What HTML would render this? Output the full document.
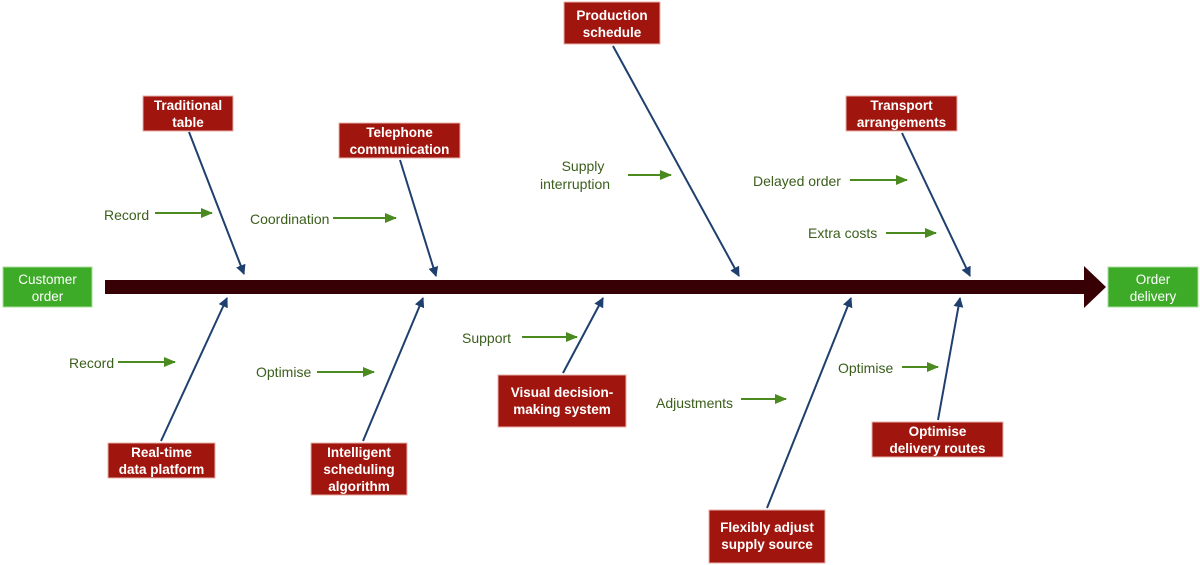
<!DOCTYPE html>
<html><head><meta charset="utf-8"><style>
html,body{margin:0;padding:0;background:#fff;}
svg{display:block;font-family:"Liberation Sans",Arial,sans-serif;}
.b{fill:#a0160e;stroke:#e8b0a8;stroke-width:1}
.g{fill:#3dab28;stroke:#a8dc9c;stroke-width:1}
.bt{fill:#fff;font-weight:bold;font-size:13.5px;text-anchor:middle}
.gt{fill:#fff;font-size:13.5px;text-anchor:middle}
.l{fill:#3b5e1c;font-size:14px}
.bl{stroke:#1f3f6e;stroke-width:2;marker-end:url(#ab)}
.gl{stroke:#4a8a1e;stroke-width:2;marker-end:url(#ag)}
</style></head><body>
<svg width="1200" height="565" viewBox="0 0 1200 565">
<defs>
<marker id="ab" markerWidth="10" markerHeight="10" refX="9" refY="5" orient="auto" markerUnits="userSpaceOnUse"><path d="M0,0 L10,5 L0,10 Z" fill="#1f3f6e"/></marker>
<marker id="ag" markerWidth="12" markerHeight="10" refX="11" refY="5" orient="auto" markerUnits="userSpaceOnUse"><path d="M0,0 L12,5 L0,10 Z" fill="#4a8a1e"/></marker>
</defs>
<!-- spine -->
<rect x="105" y="280" width="982" height="14" fill="#360004"/>
<path d="M1084,266 L1106,287 L1084,308 Z" fill="#360004"/>
<!-- end boxes -->
<rect class="g" x="3" y="267" width="89" height="40"/>
<text class="gt" x="47.5" y="284">Customer</text><text class="gt" x="47.5" y="301">order</text>
<rect class="g" x="1108" y="267" width="90" height="40"/>
<text class="gt" x="1153" y="284">Order</text><text class="gt" x="1153" y="301">delivery</text>
<!-- blue bones -->
<line class="bl" x1="189" y1="132" x2="244" y2="274"/>
<line class="bl" x1="400" y1="160" x2="436" y2="276"/>
<line class="bl" x1="613" y1="46" x2="739" y2="276"/>
<line class="bl" x1="902" y1="133" x2="970" y2="276"/>
<line class="bl" x1="161" y1="441" x2="227" y2="298"/>
<line class="bl" x1="363" y1="441" x2="423" y2="298"/>
<line class="bl" x1="563" y1="373" x2="603" y2="298"/>
<line class="bl" x1="767" y1="508" x2="851" y2="298"/>
<line class="bl" x1="938" y1="420" x2="960" y2="298"/>
<!-- red boxes -->
<rect class="b" x="143" y="96" width="90" height="35"/>
<text class="bt" x="188" y="110">Traditional</text><text class="bt" x="188" y="127">table</text>
<rect class="b" x="339" y="123" width="121" height="35"/>
<text class="bt" x="399.5" y="137">Telephone</text><text class="bt" x="399.5" y="154">communication</text>
<rect class="b" x="564" y="2" width="96" height="42"/>
<text class="bt" x="612" y="20">Production</text><text class="bt" x="612" y="37">schedule</text>
<rect class="b" x="846" y="96" width="111" height="35"/>
<text class="bt" x="901.5" y="110">Transport</text><text class="bt" x="901.5" y="127">arrangements</text>
<rect class="b" x="108" y="443" width="107" height="35"/>
<text class="bt" x="161.5" y="457">Real-time</text><text class="bt" x="161.5" y="474">data platform</text>
<rect class="b" x="311" y="443" width="96" height="52"/>
<text class="bt" x="359" y="457">Intelligent</text><text class="bt" x="359" y="474">scheduling</text><text class="bt" x="359" y="491">algorithm</text>
<rect class="b" x="498" y="375" width="128" height="52"/>
<text class="bt" x="562" y="397">Visual decision-</text><text class="bt" x="562" y="414">making system</text>
<rect class="b" x="709" y="510" width="116" height="53"/>
<text class="bt" x="767" y="532">Flexibly adjust</text><text class="bt" x="767" y="549">supply source</text>
<rect class="b" x="872" y="422" width="131" height="35"/>
<text class="bt" x="937.5" y="436">Optimise</text><text class="bt" x="937.5" y="453">delivery routes</text>
<!-- green labels -->
<text class="l" x="104" y="220">Record</text><line class="gl" x1="155" y1="213" x2="212" y2="213"/>
<text class="l" x="250" y="224">Coordination</text><line class="gl" x1="333" y1="218" x2="396" y2="218"/>
<text class="l" x="583" y="171" text-anchor="middle">Supply</text><text class="l" x="575" y="189" text-anchor="middle">interruption</text>
<line class="gl" x1="628" y1="175" x2="671" y2="175"/>
<text class="l" x="753" y="186">Delayed order</text><line class="gl" x1="850" y1="180" x2="907" y2="180"/>
<text class="l" x="808" y="238">Extra costs</text><line class="gl" x1="886" y1="233" x2="936" y2="233"/>
<text class="l" x="69" y="368">Record</text><line class="gl" x1="118" y1="362" x2="175" y2="362"/>
<text class="l" x="256" y="377">Optimise</text><line class="gl" x1="317" y1="372" x2="374" y2="372"/>
<text class="l" x="462" y="343">Support</text><line class="gl" x1="522" y1="337" x2="577" y2="337"/>
<text class="l" x="656" y="408">Adjustments</text><line class="gl" x1="741" y1="399" x2="786" y2="399"/>
<text class="l" x="838" y="373">Optimise</text><line class="gl" x1="902" y1="367" x2="938" y2="367"/>
</svg>
</body></html>
